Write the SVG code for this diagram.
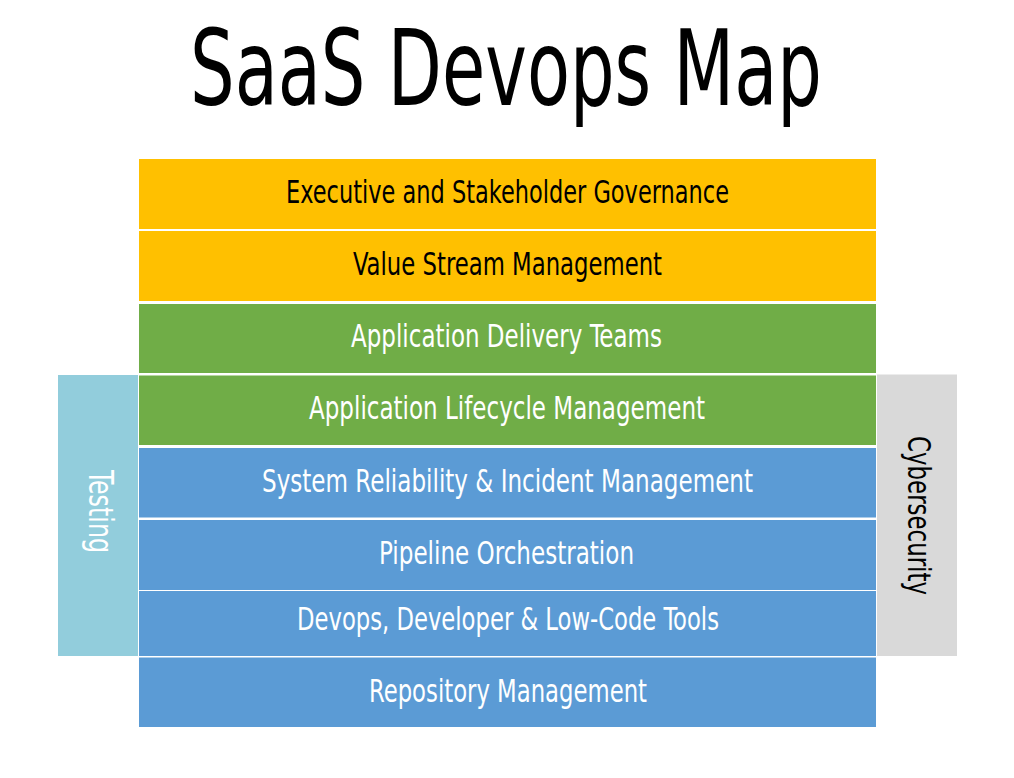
<svg xmlns="http://www.w3.org/2000/svg" width="1014" height="778" viewBox="0 0 1014 778">
<style>
.t{font-family:"Liberation Sans Narrow","DejaVu Sans Condensed","Liberation Sans",sans-serif;font-stretch:condensed;text-anchor:middle}
.bar{font-size:32px}
.dark{fill:#000}
.light{fill:#fff}
.y{fill:#FFC000}
.g{fill:#70AD47}
.b{fill:#5B9BD5}
</style>
<rect width="1014" height="778" fill="#fff"/>
<text class="t dark" x="506" y="105" font-size="106" textLength="632" lengthAdjust="spacingAndGlyphs">SaaS Devops Map</text>
<g id="testing">
<rect x="58" y="375" width="80" height="281" fill="#92CDDC"/>
<text class="t light" transform="translate(89,511.5) rotate(90)" font-size="33" textLength="83" lengthAdjust="spacingAndGlyphs">Testing</text>
</g>
<g id="cybersecurity">
<rect x="877" y="374.5" width="80" height="281.5" fill="#D9D9D9"/>
<text class="t dark" transform="translate(908,515.5) rotate(90)" font-size="32" textLength="159" lengthAdjust="spacingAndGlyphs">Cybersecurity</text>
</g>
<g id="bar1">
<rect class="y" x="139" y="159" width="737" height="70"/>
<text class="t bar dark" x="507.5" y="202.5" textLength="443" lengthAdjust="spacingAndGlyphs">Executive and Stakeholder Governance</text>
</g>
<g id="bar2">
<rect class="y" x="139" y="231" width="737" height="70"/>
<text class="t bar dark" x="507.5" y="275" textLength="309" lengthAdjust="spacingAndGlyphs">Value Stream Management</text>
</g>
<g id="bar3">
<rect class="g" x="139" y="304" width="737" height="69"/>
<text class="t bar light" x="506.5" y="346.5" textLength="311" lengthAdjust="spacingAndGlyphs">Application Delivery Teams</text>
</g>
<g id="bar4">
<rect class="g" x="139" y="375.5" width="737" height="69.5"/>
<text class="t bar light" x="507" y="419" textLength="396" lengthAdjust="spacingAndGlyphs">Application Lifecycle Management</text>
</g>
<g id="bar5">
<rect class="b" x="139" y="448" width="737" height="69.5"/>
<text class="t bar light" x="507.5" y="491.5" textLength="491" lengthAdjust="spacingAndGlyphs">System Reliability &amp; Incident Management</text>
</g>
<g id="bar6">
<rect class="b" x="139" y="520" width="737" height="70"/>
<text class="t bar light" x="506.5" y="564" textLength="255" lengthAdjust="spacingAndGlyphs">Pipeline Orchestration</text>
</g>
<g id="bar7">
<rect class="b" x="139" y="591" width="737" height="65"/>
<text class="t bar light" x="508" y="630" textLength="422" lengthAdjust="spacingAndGlyphs">Devops, Developer &amp; Low-Code Tools</text>
</g>
<g id="bar8">
<rect class="b" x="139" y="657.5" width="737" height="69.5"/>
<text class="t bar light" x="508" y="701.5" textLength="278" lengthAdjust="spacingAndGlyphs">Repository Management</text>
</g>
<g id="connectors"></g>
</svg>
